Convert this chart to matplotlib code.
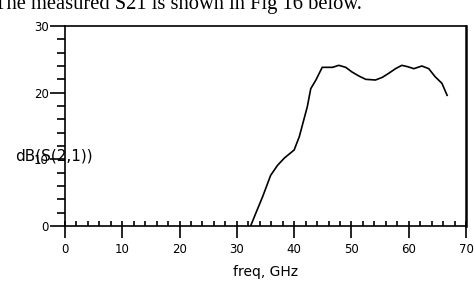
import matplotlib
matplotlib.use("Agg")
import matplotlib.pyplot as plt
from matplotlib.ticker import MultipleLocator

freq = [32.4, 33.3, 34.5, 35.9, 37.1, 38.3, 40.0, 40.9, 42.3, 42.9, 43.8, 44.9,
        46.7, 47.8, 49.0, 50.1, 51.3, 52.5, 54.2, 55.4, 56.5, 57.7, 58.8, 59.8,
        60.9, 62.3, 63.5, 64.6, 65.8, 66.7]
s21 = [0.0, 1.9, 4.4, 7.6, 9.1, 10.2, 11.4, 13.4, 17.9, 20.6, 21.9, 23.8,
       23.8, 24.1, 23.8, 23.1, 22.5, 22.0, 21.9, 22.3, 22.9, 23.6, 24.1, 23.9,
       23.6, 24.0, 23.6, 22.4, 21.4, 19.6]
xticks = [0, 10, 20, 30, 40, 50, 60, 70]
yticks = [0, 10, 20, 30]

fig = plt.figure(figsize=(4.74, 2.82), dpi=100)
ax = fig.add_axes([65 / 474, 56 / 282, 401 / 474, 200 / 282])

ax.plot(freq, s21, color="black", linewidth=1.2)

ax.set_xlim(0, 70)
ax.set_ylim(0, 30)
ax.set_xticks(xticks)
ax.set_yticks(yticks)
ax.xaxis.set_minor_locator(MultipleLocator(2))
ax.yaxis.set_minor_locator(MultipleLocator(2))
ax.xaxis.remove_overlapping_locs = False

ax.tick_params(axis="x", which="major", direction="out", length=8.5, width=1.2,
               labelsize=8.5, pad=3.5)
ax.tick_params(axis="x", which="minor", direction="in", length=3.6, width=1.2)
ax.tick_params(axis="y", which="major", direction="out", length=10.5, width=1.2,
               labelsize=8.5, pad=1)
ax.tick_params(axis="y", which="minor", direction="out", length=5.5, width=1.2)

for sp in ax.spines.values():
    sp.set_linewidth(1.2)
ax.spines["right"].set_linewidth(1.8)

ax.set_xlabel("freq, GHz", fontsize=10, labelpad=7)

# etiqueta del eje y, horizontal y encima del "10" como en el original
fig.text(15 / 474, 1 - 156 / 282, "dB(S(2,1))", fontsize=11,
         ha="left", va="center")

# texto del documento cortado arriba
fig.text(-6 / 474, 1 - 9 / 282, "The measured S21 is shown in Fig 16 below.",
         family="Liberation Serif", fontsize=14.8, ha="left", va="baseline")

plt.savefig("out.png", dpi=100)
